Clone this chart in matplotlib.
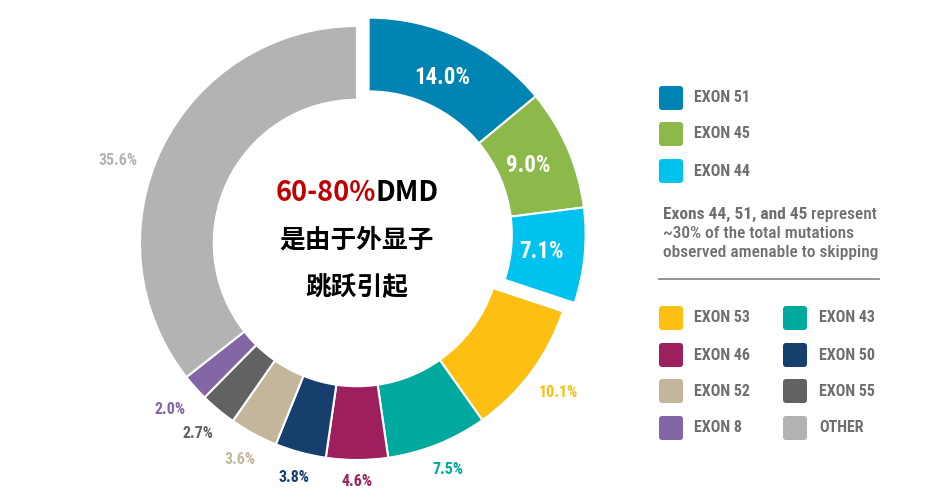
import matplotlib
matplotlib.use("Agg")
import matplotlib.pyplot as plt
from matplotlib.patches import FancyBboxPatch
import numpy as np

# ---- data ----
exons = ["EXON 51", "EXON 45", "EXON 44", "EXON 53", "EXON 43", "EXON 46",
         "EXON 50", "EXON 52", "EXON 55", "EXON 8", "OTHER"]
values = [14.0, 9.0, 7.1, 10.1, 7.5, 4.6, 3.8, 3.6, 2.7, 2.0, 35.6]
colors = ["#0084B4", "#8DB84A", "#00C2EF", "#FDC012", "#00A99D", "#9E1F5E",
          "#173F6E", "#C4B69B", "#616262", "#8465A6", "#B3B3B3"]
highlight_count = 3  # first three slices (exons 51, 45, 44) are pulled out
center_lines = ["是由于外显子", "跳跃引起"]
center_red = "60-80%"
center_black = "DMD"
note_bold = "Exons 44, 51, and 45"
note_rest = [" represent", "~30% of the total mutations", "observed amenable to skipping"]

W, H = 943, 492
fig = plt.figure(figsize=(W / 100, H / 100), dpi=100)
fig.patch.set_facecolor("white")

R = 217
cx, cy = 357, 243
L = 1.3
ax = fig.add_axes([(cx - R * L) / W, (H - cy - R * L) / H, 2 * R * L / W, 2 * R * L / H])

narrow = ["Roboto Condensed", "Liberation Sans Narrow", "DejaVu Sans"]
NS = "condensed"
cjk = ["Noto Sans CJK SC", "DejaVu Sans"]

wp = dict(width=0.34, edgecolor="white", linewidth=1.5)
total = sum(values)
group_frac = sum(values[:highlight_count]) / total
ang = np.deg2rad(90 - 360 * group_frac / 2)
off = 0.066
shift = (off * np.cos(ang), off * np.sin(ang))

wA, _ = ax.pie(values, colors=colors, startangle=90, counterclock=False,
               wedgeprops=wp, center=shift)
wB, _ = ax.pie(values, colors=colors, startangle=90, counterclock=False,
               wedgeprops=wp, center=(0, 0))
for i in range(len(values)):
    if i < highlight_count:
        wB[i].set_visible(False)
    else:
        wA[i].set_visible(False)

ax.set_xlim(-L, L)
ax.set_ylim(-L, L)
ax.axis("off")

# percentage labels
cum = 0.0
for i, v in enumerate(values):
    mid = 90 - 360 * (cum + v / 2) / total
    cum += v
    if i < highlight_count:
        t = np.deg2rad(mid)
        r = 0.80
        x = shift[0] + r * np.cos(t)
        y = shift[1] + r * np.sin(t)
        ax.text(x, y, f"{v:.1f}%", color="white", fontsize=16.5, fontweight="bold",
                family=narrow, fontstretch=NS, ha="center", va="center")
    else:
        if i == len(values) - 1:
            t = np.deg2rad(mid + 7)
        else:
            t = np.deg2rad(mid)
        r = 1.10 + 0.07 * abs(np.cos(t))
        x = r * np.cos(t)
        y = r * np.sin(t)
        ax.text(x, y, f"{v:.1f}%", color=colors[i], fontsize=11.5, fontweight="bold",
                family=narrow, fontstretch=NS, ha="center", va="center")

# centre text
t1 = ax.text(0.0, 0.23, center_red, color="#C00000", fontsize=19.5, fontweight="bold",
             family=cjk, ha="right", va="center")
ann = ax.annotate(center_black, xy=(1, 0.5), xycoords=t1, color="black", fontsize=20,
                  fontweight="bold", family=cjk, ha="left", va="center")
ax.text(0.0, 0.012, center_lines[0], color="black", fontsize=18.5, fontweight="bold",
        family=cjk, ha="center", va="center")
ax.text(0.0, -0.205, center_lines[1], color="black", fontsize=18.5, fontweight="bold",
        family=cjk, ha="center", va="center")
fig.canvas.draw()
bb1 = t1.get_window_extent()
bb2 = ann.get_window_extent()
totw = bb1.width + bb2.width
t1.set_x((bb1.width - totw / 2) / R)

# legend overlay axes in pixel coordinates
lg = fig.add_axes([0, 0, 1, 1])
lg.set_xlim(0, W)
lg.set_ylim(H, 0)
lg.axis("off")
txtc = "#6D6E71"

def swatch(x, y, c):
    s = 24
    lg.add_patch(FancyBboxPatch((x + 3, y - s / 2 + 3), s - 6, s - 6,
                                boxstyle="round,pad=3", fc=c, ec="none"))

rows1 = [98, 134, 171]
for k in range(highlight_count):
    swatch(659, rows1[k], colors[k])
    lg.text(694, rows1[k], exons[k], color=txtc, fontsize=11.5, fontweight="bold",
            family=narrow, fontstretch=NS, ha="left", va="center")

PF = 12.5
tb = lg.text(663, 214, note_bold, color=txtc, fontsize=PF, fontweight="bold",
             family=narrow, fontstretch=NS, ha="left", va="center")
lg.annotate(note_rest[0], xy=(1, 0.5), xycoords=tb, color=txtc, fontsize=PF,
            fontweight="medium", family=narrow, fontstretch=NS, ha="left", va="center")
lg.text(663, 233.5, note_rest[1], color=txtc, fontsize=PF, fontweight="medium",
        family=narrow, fontstretch=NS, ha="left", va="center")
lg.text(663, 253, note_rest[2], color=txtc, fontsize=PF, fontweight="medium",
        family=narrow, fontstretch=NS, ha="left", va="center")
lg.plot([659, 879], [279, 279], color="#8A8B8D", lw=1.3)

rest = list(range(highlight_count, len(exons)))
rows2 = [318, 355, 391, 428]
for j, idx in enumerate(rest):
    col = j % 2
    row = j // 2
    x0 = 659 if col == 0 else 783
    tx = 694 if col == 0 else 819
    swatch(x0, rows2[row], colors[idx])
    lg.text(tx, rows2[row], exons[idx], color=txtc, fontsize=11.5, fontweight="bold",
            family=narrow, fontstretch=NS, ha="left", va="center")

fig.savefig("out.png", dpi=100, facecolor="white")
